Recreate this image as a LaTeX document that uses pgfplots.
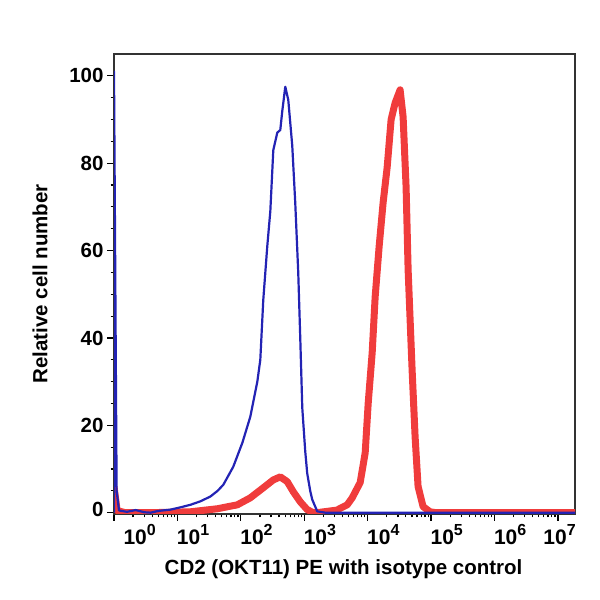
\documentclass[border=0pt]{standalone}
\usepackage{fontspec}
\setmainfont{Liberation Sans}
\usepackage{pgfplots}
\pgfplotsset{compat=1.18}
\definecolor{cblue}{RGB}{35,35,180}
\definecolor{cred}{RGB}{240,60,60}
\newcommand\ex[1]{10\raisebox{0.42em}{\fontsize{16bp}{16bp}\selectfont\bfseries #1}}
\begin{document}
\begin{tikzpicture}
\path[use as bounding box] (0,0) rectangle (600bp,600bp);
\begin{axis}[
  at={(114bp,86bp)}, anchor=south west,
  scale only axis, width=461bp, height=460bp,
  xmode=log, xmin=1, xmax=1.86e7, ymin=-0.3, ymax=105,
  axis line style={black!80, line width=1.2bp},
  tick align=outside, xtick pos=bottom, ytick pos=left,
  major tick length=7bp, minor tick length=3.5bp,
  every tick/.style={black, line width=1.2bp},
  xtick={1,10,100,1000,10000,100000,1000000,10000000},
  minor xtick={2,3,4,5,6,7,8,9,20,30,40,50,60,70,80,90,200,300,400,500,600,700,800,900,2000,3000,4000,5000,6000,7000,8000,9000,20000,30000,40000,50000,60000,70000,80000,90000,200000,300000,400000,500000,600000,700000,800000,900000,2000000,3000000,4000000,5000000,6000000,7000000,8000000,9000000},
  xticklabels={\hspace*{10bp}\ex{0},\ex{1},\ex{2},\ex{3},\ex{4},\ex{5},\ex{6},\hspace*{-14bp}\ex{7}},
  xticklabel style={anchor=north west, xshift=-4bp, font=\fontsize{21bp}{21bp}\selectfont\bfseries},
  ytick={0,20,40,60,80,100}, minor y tick num=3,
  yticklabels={\raisebox{7bp}{0},20,40,60,80,100},
  yticklabel style={font=\fontsize{20.5bp}{20.5bp}\selectfont\bfseries},
  xlabel={CD2 (OKT11) PE with isotype control},
  ylabel={Relative cell number},
  every axis x label/.style={at={(axis description cs:0.498,-0.12)}, anchor=center, font=\fontsize{20.5bp}{20.5bp}\selectfont\bfseries},
  every axis y label/.style={at={(axis description cs:-0.1605,0.5)}, rotate=90, anchor=center, font=\fontsize{20.5bp}{20.5bp}\selectfont\bfseries},
]
\addplot[cred, line width=7bp, line join=round] coordinates {
(1,6) (1.12,0.5) (1.5,0) (3.76,0) (16,0.2) (42.6,0.9) (88.1,1.8) (141,3.4) (226,5.7) (325,7.5) (419,8.2) (540,7.1) (671,4.8) (865,2.5) (1114,0.7) (1387,0) (1786,0.1) (3311,0.6) (3690,1.0) (4753,1.8) (5702,3.4) (7621,6.9) (9141,13.7) (10190,25) (11780,36.6) (13130,49.4) (15180,61) (17540,71) (20280,79) (23440,90) (27100,93.8) (32500,96.8) (36220,90.6) (40360,74.6) (43450,55.6) (50220,32.7) (55980,17.4) (62370,6) (74820,1.4) (96400,0.2) (120000,0) (18600000,0)
};
\addplot[cblue, line width=2.2bp, line join=round] coordinates {
(1,0) (1,101) (1.1,5) (1.2,0.5) (1.6,0.2) (2.2,0.6) (3,0.1) (3.76,0) (5,0.4) (7.76,0.7) (11,1.2) (16.0,1.8) (23,2.6) (33.1,3.7) (43,5) (53.0,6.4) (75.9,10.5) (105.7,16) (141.3,22) (182,30) (202.8,35) (225.9,48.7) (261.2,61) (291.7,69) (325.1,83) (375.8,87) (418.8,87.6) (450.8,92) (502.3,97.5) (559.8,94.5) (647,84) (721,71) (804,55) (865,40) (931,24) (1037,14) (1114,9) (1242,5) (1337,3) (1603,0.3) (2143,0) (18600000,0)
};
\end{axis}
\end{tikzpicture}
\end{document}
